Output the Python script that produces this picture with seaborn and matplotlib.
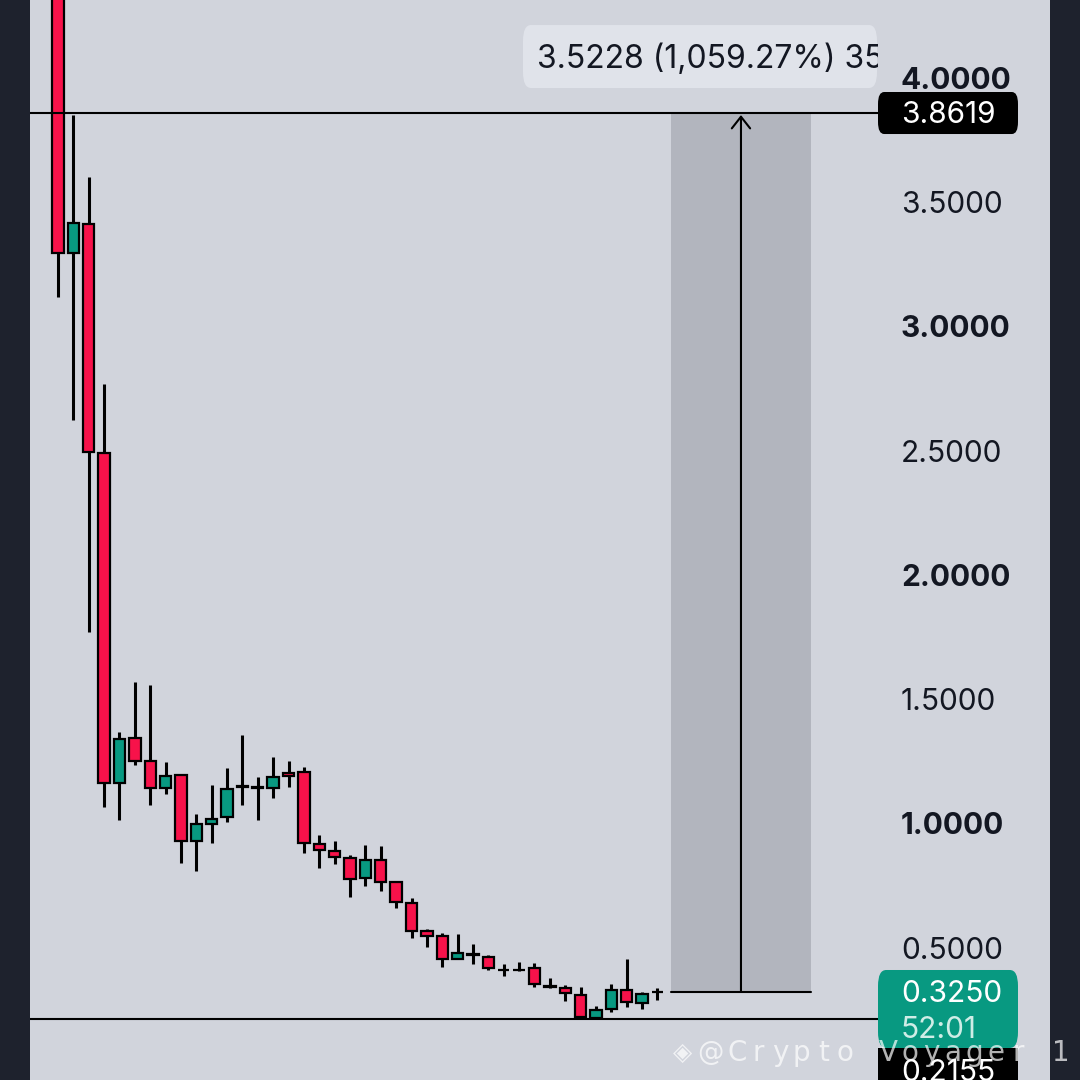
import numpy as np
import pandas as pd
import matplotlib.pyplot as plt
from matplotlib.patches import Rectangle, FancyBboxPatch
import seaborn as sns

# candle data
OPENS = [4.75, 3.296, 3.414, 2.491, 1.164, 1.345, 1.255, 1.146, 1.196, 0.932,
         1.000, 1.027, 1.148, 1.148, 1.144, 1.205, 1.209, 0.918, 0.891, 0.862,
         0.782, 0.855, 0.767, 0.683, 0.570, 0.550, 0.456, 0.478, 0.466, 0.414,
         0.414, 0.420, 0.347, 0.339, 0.312, 0.218, 0.255, 0.332, 0.281, 0.323]
HIGHS = [4.90, 3.850, 3.601, 2.770, 1.371, 1.572, 1.559, 1.251, 1.197, 1.040,
         1.157, 1.224, 1.358, 1.190, 1.268, 1.255, 1.231, 0.956, 0.932, 0.875,
         0.916, 0.913, 0.772, 0.701, 0.578, 0.563, 0.556, 0.517, 0.473, 0.437,
         0.446, 0.440, 0.379, 0.352, 0.343, 0.269, 0.355, 0.456, 0.325, 0.339]
LOWS = [3.121, 2.625, 1.772, 1.070, 1.016, 1.237, 1.076, 1.120, 0.842, 0.811,
        0.925, 1.009, 1.076, 1.016, 1.103, 1.148, 0.885, 0.822, 0.838, 0.705,
        0.751, 0.731, 0.661, 0.540, 0.504, 0.426, 0.456, 0.437, 0.413, 0.389,
        0.410, 0.346, 0.339, 0.288, 0.218, 0.2155, 0.245, 0.263, 0.256, 0.292]
CLOSES = [3.296, 3.416, 2.495, 1.166, 1.341, 1.255, 1.146, 1.193, 0.932, 0.999,
          1.021, 1.140, 1.152, 1.144, 1.190, 1.195, 0.922, 0.894, 0.869, 0.779,
          0.855, 0.767, 0.686, 0.571, 0.550, 0.456, 0.482, 0.474, 0.422, 0.411,
          0.411, 0.356, 0.344, 0.319, 0.222, 0.252, 0.332, 0.285, 0.316, 0.325]

PRICE_TICKS = [0.5, 1.0, 1.5, 2.0, 2.5, 3.0, 3.5, 4.0]
TARGET = 3.8619
LAST = 0.3250
LOW_MARK = 0.2155
COUNTDOWN = '52:01'
MEASURE_TEXT = '3.5228 (1,059.27%) 35'
WATERMARK = 'Crypto Voyager 1'

BG = '#D1D4DC'
FRAME = '#1E222D'
RED = '#F7124A'
GREEN = '#089981'
BOX_GREY = '#B2B5BE'
INK = '#131722'
FS = 21.5
DY = 0.01  # small nudge so text sits on its level

# axes limits (chart window)
XMIN, XMAX = -1.82, 64.54
YMIN, YMAX = -0.0298, 4.3146
# measuring tool span in bar units
MEAS_X0, MEAS_X1 = 39.88, 48.99


def fx(px):
    # horizontal pixel -> axes fraction
    return (px - 30) / 1020


df = pd.DataFrame({'bar': np.arange(len(OPENS)), 'open': OPENS, 'high': HIGHS,
                   'low': LOWS, 'close': CLOSES})
df['body'] = df['close'] - df['open']
df['up'] = df['close'] >= df['open']

sns.set_theme(style='white')
plt.rcParams['font.family'] = ['Inter', 'DejaVu Sans']

fig = plt.figure(figsize=(10.8, 10.8), dpi=100, facecolor=FRAME)
ax = fig.add_axes([30 / 1080, 0, 1020 / 1080, 1])
ax.set_facecolor(BG)

# wicks
ax.vlines(df['bar'], df['low'], df['high'], color='black', lw=2.2, zorder=1)

# bodies as floating bars
for up, color in [(True, GREEN), (False, RED)]:
    sub = df[df['up'] == up]
    sns.barplot(data=sub, x='bar', y='body', native_scale=True, orient='x',
                color=color, saturation=1, errorbar=None, width=0.74,
                bottom=sub['open'].values, edgecolor='black', linewidth=1.6,
                ax=ax, zorder=2)

ax.set_xlim(XMIN, XMAX)
ax.set_ylim(YMIN, YMAX)
ax.set_xticks([])
ax.set_yticks([])
ax.set_xlabel('')
ax.set_ylabel('')
for s in ax.spines.values():
    s.set_visible(False)

ytr = ax.get_yaxis_transform()

# measuring box and arrow
ax.add_patch(Rectangle((MEAS_X0, LAST), MEAS_X1 - MEAS_X0, TARGET - LAST,
                       facecolor=BOX_GREY, edgecolor='none', zorder=0.5))
ax.plot([MEAS_X0, MEAS_X1], [LAST, LAST], color='black', lw=1.5, zorder=3)
ax.annotate('', xy=((MEAS_X0 + MEAS_X1) / 2, TARGET - 0.01),
            xytext=((MEAS_X0 + MEAS_X1) / 2, LAST),
            arrowprops=dict(arrowstyle='->,head_length=0.7,head_width=0.55',
                            color='black', lw=1.5, shrinkA=0, shrinkB=0),
            zorder=3)

# horizontal levels
ax.axhline(TARGET, xmin=0, xmax=fx(878), color='black', lw=1.5, zorder=3)
ax.axhline(LOW_MARK, xmin=0, xmax=fx(878), color='black', lw=1.5, zorder=3)

# measurement label
ax.add_patch(FancyBboxPatch((fx(523), 3.9606), fx(877) - fx(523), 4.2140 - 3.9606,
                            boxstyle='round,pad=0,rounding_size=0.008',
                            transform=ytr, facecolor='#E0E3EA', edgecolor='none',
                            zorder=4, mutation_aspect=8))
ax.text(fx(537), 4.0853 - DY, MEASURE_TEXT, transform=ytr, ha='left',
        va='center', fontsize=FS + 1.5, color=INK, zorder=4.5)

# price scale column
ax.add_patch(Rectangle((fx(878), YMIN), 1, YMAX - YMIN, transform=ytr,
                       facecolor=BG, edgecolor='none', zorder=5))

for v in PRICE_TICKS:
    bold = float(v).is_integer()
    ax.text(fx(901), v - DY, f'{v:.4f}', transform=ytr, ha='left', va='center',
            fontsize=FS, color=INK, fontweight='bold' if bold else 'normal',
            zorder=6)

# target label
ax.add_patch(FancyBboxPatch((fx(878), 3.7755), fx(1018) - fx(878), 3.9445 - 3.7755,
                            boxstyle='round,pad=0,rounding_size=0.006',
                            transform=ytr, facecolor='black', edgecolor='none',
                            zorder=7, mutation_aspect=8))
ax.text(fx(901), TARGET - DY, f'{TARGET:.4f}', transform=ytr, ha='left',
        va='center', fontsize=FS, color='white', zorder=8)

# low label (pushed down under the last price tag)
ax.add_patch(Rectangle((fx(878), YMIN - 0.1), fx(1018) - fx(878), 0.23,
                       transform=ytr, facecolor='black', edgecolor='none', zorder=7))
ax.text(fx(901), 0.0, f'{LOW_MARK:.4f}', transform=ytr, ha='left', va='center',
        fontsize=FS, color='white', zorder=8)

# last price label
ax.add_patch(FancyBboxPatch((fx(878), 0.099), fx(1018) - fx(878), 0.4127 - 0.099,
                            boxstyle='round,pad=0,rounding_size=0.008',
                            transform=ytr, facecolor=GREEN, edgecolor='none',
                            zorder=9, mutation_aspect=8))
ax.text(fx(901), LAST - DY, f'{LAST:.4f}', transform=ytr, ha='left',
        va='center', fontsize=FS, color='white', zorder=10)
ax.text(fx(901), 0.1794 - DY, COUNTDOWN, transform=ytr, ha='left',
        va='center', fontsize=FS, color='#CFEDE6', zorder=10)

# watermark
wy = 1 - 1053 / 1080
fig.text(683 / 1080, wy, '◈', ha='center', va='center', fontsize=18,
         color='white', alpha=0.7, family=['DejaVu Sans'], zorder=20)
fig.text(710 / 1080, wy, '@', ha='center', va='center', fontsize=19,
         color='white', alpha=0.7, family=['DejaVu Sans'], zorder=20)
for k, ch in enumerate(WATERMARK):
    fig.text((737 + 21.6 * k) / 1080, wy, ch, ha='center', va='center',
             fontsize=20, color='white', alpha=0.7, family=['DejaVu Sans'],
             zorder=20)

fig.savefig('out.png', dpi=100, facecolor=FRAME)
